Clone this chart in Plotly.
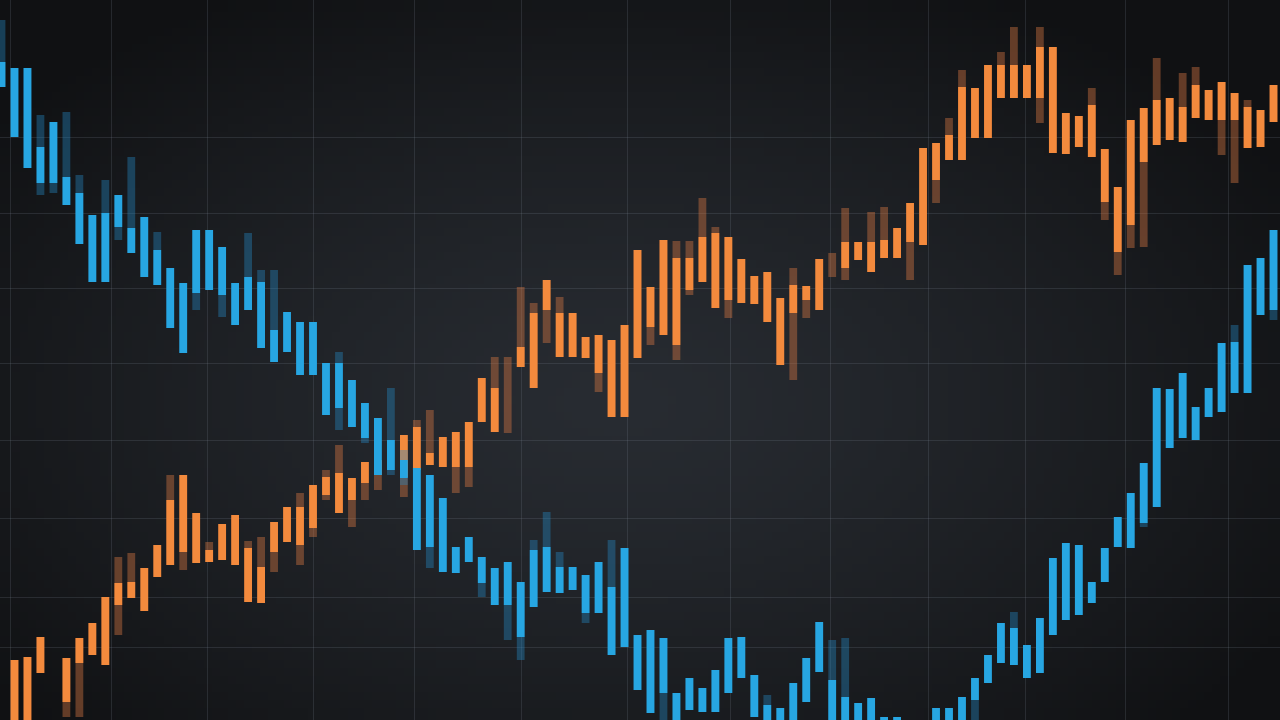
import base64
import struct
import zlib

import plotly.graph_objects as go

# ---------------- data (price units, arbitrary scale) ----------------
candle_index = list(range(99))

blue_high = [98.0, 93.2, 93.2, 88.5, 87.8, 88.8, 82.5, 78.5, 82.0, 80.5,
             84.3, 78.3, 76.8, 73.2, 71.7, 77.0, 77.0, 75.3, 71.7, 76.7,
             73.0, 73.0, 68.8, 67.8, 67.8, 63.7, 64.8, 62.0, 59.7, 58.2,
             61.2, 55.0, 53.2, 52.5, 50.2, 45.3, 46.3, 44.3, 43.2, 43.8,
             41.8, 46.0, 48.8, 44.8, 43.3, 42.5, 43.8, 46.0, 45.2, 36.5,
             37.0, 36.2, 30.7, 32.2, 31.2, 33.0, 36.2, 36.3, 32.5, 30.5,
             29.2, 31.7, 34.2, 37.8, 36.0, 36.2, 29.7, 30.2, 28.3, 28.3,
             26.5, 27.0, 29.2, 29.2, 30.3, 32.2, 34.5, 37.7, 38.8, 35.5,
             38.2, 44.2, 45.7, 45.5, 41.8, 45.2, 48.3, 50.7, 53.7, 61.2,
             61.1, 62.7, 59.3, 61.2, 65.7, 67.5, 73.5, 74.2, 77.0]

blue_top = [93.8, 93.2, 93.2, 85.3, 87.8, 82.3, 80.7, 78.5, 78.7, 80.5,
            77.2, 78.3, 75.0, 73.2, 71.7, 77.0, 77.0, 75.3, 71.7, 72.3,
            71.8, 67.0, 68.8, 67.8, 67.8, 63.7, 63.7, 62.0, 59.7, 58.2,
            56.0, 54.0, 53.2, 52.5, 50.2, 45.3, 46.3, 44.3, 43.2, 43.8,
            41.8, 45.0, 45.3, 43.3, 43.3, 42.5, 43.8, 41.3, 45.2, 36.5,
            37.0, 36.2, 30.7, 32.2, 31.2, 33.0, 36.2, 36.3, 32.5, 29.5,
            29.2, 31.7, 34.2, 37.8, 32.0, 30.3, 29.7, 30.2, 28.3, 28.3,
            26.5, 27.0, 29.2, 29.2, 30.3, 32.2, 34.5, 37.7, 37.2, 35.5,
            38.2, 44.2, 45.7, 45.5, 41.8, 45.2, 48.3, 50.7, 53.7, 61.2,
            61.1, 62.7, 59.3, 61.2, 65.7, 65.8, 73.5, 74.2, 77.0]

blue_bottom = [91.3, 86.3, 83.2, 81.7, 81.7, 79.5, 75.6, 71.8, 71.8, 77.3,
               74.7, 72.3, 71.5, 67.2, 64.7, 70.7, 71.0, 70.5, 67.5, 69.0,
               65.2, 63.8, 64.8, 62.5, 62.5, 58.5, 59.2, 57.3, 56.2, 52.5,
               53.0, 52.2, 45.0, 45.3, 42.8, 42.7, 43.8, 41.7, 39.5, 39.5,
               36.3, 39.3, 40.8, 40.7, 41.0, 38.7, 38.7, 34.5, 35.3, 31.0,
               28.7, 30.7, 27.8, 29.0, 28.8, 28.8, 30.7, 32.2, 28.3, 27.5,
               27.5, 27.5, 29.8, 32.8, 27.5, 27.5, 27.5, 27.5, 26.5, 26.5,
               24.0, 24.5, 27.0, 27.0, 27.0, 30.0, 31.7, 33.7, 33.5, 32.2,
               32.7, 36.5, 38.0, 38.5, 39.7, 41.8, 45.3, 45.2, 47.7, 49.3,
               55.2, 56.2, 56.0, 58.3, 58.8, 60.7, 60.7, 68.5, 69.0]

blue_low = [91.3, 86.3, 83.2, 80.5, 80.7, 79.5, 75.6, 71.8, 71.8, 76.0,
            74.7, 72.3, 71.5, 67.2, 64.7, 69.0, 71.0, 68.3, 67.5, 69.0,
            65.2, 63.8, 64.8, 62.5, 62.5, 58.5, 57.0, 57.3, 55.7, 52.5,
            52.5, 51.5, 45.0, 43.2, 42.8, 42.7, 43.8, 40.3, 39.5, 36.0,
            34.0, 39.3, 40.8, 40.7, 41.0, 37.7, 38.7, 34.5, 35.3, 31.0,
            28.7, 28.0, 27.0, 29.0, 28.8, 28.8, 30.7, 32.2, 28.3, 27.0,
            27.0, 27.0, 29.8, 32.8, 27.0, 27.0, 27.0, 27.0, 26.0, 26.0,
            23.5, 24.0, 26.5, 26.5, 26.5, 28.0, 31.7, 33.7, 33.5, 32.2,
            32.7, 36.5, 38.0, 38.5, 39.7, 41.8, 45.3, 45.2, 47.3, 49.3,
            55.2, 56.2, 56.0, 58.3, 58.8, 60.7, 60.7, 68.5, 68.0]

orange_high = [None, 34.0, 34.3, 36.3, None, 34.2, 36.2, 37.7, 40.3, 44.3,
               44.7, 43.2, 45.5, 52.5, 52.5, 48.7, 45.8, 47.6, 48.5, 45.9,
               46.3, 47.8, 49.3, 50.7, 51.5, 53.0, 55.5, 52.2, 53.8, 54.0,
               None, 56.5, 58.0, 59.0, 56.3, 56.8, 57.8, 62.2, 64.3, 64.3,
               71.3, 69.7, 72.0, 70.3, 68.7, 66.3, 66.5, 66.0, 67.5, 75.0,
               71.3, 76.0, 75.9, 75.9, 80.2, 77.3, 76.3, 74.1, 72.4, 72.8,
               70.2, 73.2, 71.4, 74.1, 74.7, 79.2, 75.8, 78.8, 79.3, 77.2,
               79.7, 85.2, 85.7, 88.2, 93.0, 91.2, 93.5, 94.8, 97.3, 93.5,
               97.3, 95.3, 88.7, 88.4, 91.2, 85.1, 81.3, 88.0, 89.2, 94.2,
               90.2, 92.7, 93.3, 91.0, 91.8, 90.7, 90.0, 89.0, 91.5]

orange_top = [None, 34.0, 34.3, 36.3, None, 34.2, 36.2, 37.7, 40.3, 41.7,
              41.8, 43.2, 45.5, 50.0, 52.5, 48.7, 45.0, 47.6, 48.5, 45.2,
              43.3, 47.8, 49.3, 49.3, 51.5, 52.3, 52.7, 52.2, 53.8, 54.0,
              None, 56.5, 57.3, 54.7, 56.3, 56.8, 57.8, 62.2, 61.2, 60.5,
              65.3, 68.7, 72.0, 68.7, 68.7, 66.3, 66.5, 66.0, 67.5, 75.0,
              71.3, 76.0, 74.2, 74.2, 76.3, 76.7, 76.3, 74.1, 72.4, 72.8,
              70.2, 71.5, 71.4, 74.1, 73.5, 75.8, 75.8, 75.8, 76.0, 77.2,
              79.7, 85.2, 85.7, 86.5, 91.3, 91.2, 93.5, 93.5, 93.5, 93.5,
              95.3, 95.3, 88.7, 88.4, 89.5, 85.1, 81.3, 88.0, 89.2, 90.0,
              90.2, 89.3, 91.5, 91.0, 91.8, 90.7, 89.3, 89.0, 91.5]

orange_bottom = [None, 27.5, 27.5, 32.7, None, 29.8, 33.7, 34.5, 33.5, 39.5,
                 40.2, 38.9, 42.3, 43.5, 44.8, 43.7, 43.8, 44.0, 43.5, 39.8,
                 39.7, 44.8, 45.8, 45.5, 47.2, 50.5, 48.7, 50.0, 51.7, 52.5,
                 None, 52.3, 53.0, 53.5, 53.3, 53.3, 53.3, 57.8, 56.8, 60.5,
                 63.3, 61.2, 69.0, 64.3, 64.3, 64.2, 62.7, 58.3, 58.3, 64.2,
                 67.3, 66.5, 65.5, 71.0, 71.8, 69.2, 70.0, 69.7, 69.6, 67.8,
                 63.5, 68.7, 70.0, 69.0, 73.5, 73.2, 74.0, 72.8, 74.2, 74.2,
                 75.8, 75.5, 82.0, 84.0, 84.0, 86.2, 86.2, 90.2, 90.2, 90.2,
                 90.2, 84.7, 84.6, 85.3, 84.3, 79.8, 74.8, 77.5, 83.8, 85.5,
                 86.0, 85.8, 88.2, 88.0, 88.0, 88.0, 85.2, 85.3, 87.8]

orange_low = [None, 27.0, 27.0, 32.7, None, 28.3, 28.3, 34.5, 33.5, 36.5,
              40.2, 38.9, 42.3, 43.5, 43.0, 43.7, 43.8, 44.0, 43.5, 39.8,
              39.7, 42.8, 45.8, 43.5, 46.3, 50.0, 48.7, 47.3, 50.0, 51.0,
              None, 50.3, 53.0, 53.5, 53.3, 50.7, 51.3, 57.8, 56.8, 56.7,
              63.3, 61.2, 65.7, 64.3, 64.3, 64.2, 60.8, 58.3, 58.3, 64.2,
              65.5, 66.5, 64.0, 70.5, 71.8, 69.2, 68.2, 69.7, 69.6, 67.8,
              63.5, 62.0, 68.2, 69.0, 72.3, 72.0, 74.0, 72.8, 74.2, 74.2,
              72.0, 75.5, 79.7, 84.0, 84.0, 86.2, 86.2, 90.2, 90.2, 90.2,
              87.7, 84.7, 84.6, 85.3, 84.3, 78.0, 72.5, 75.2, 75.3, 85.5,
              86.0, 85.8, 88.2, 88.0, 84.5, 81.7, 85.2, 85.3, 87.8]

# grid positions (in candle / price units)
x_grid = [0.7, 8.45, 15.85, 24.05, 31.85, 40.1, 48.2, 56.15, 63.9, 71.4, 78.9, 86.6, 94.5]
y_grid = [86.3, 78.7, 71.2, 63.7, 56.0, 48.2, 40.3, 35.3]

# ---------------- styling ----------------
BLUE = "#27a6e2"
BLUE_DIM = "rgba(38,140,200,0.38)"
ORANGE = "#f38a3d"
ORANGE_DIM = "rgba(214,118,66,0.42)"
BAR_W = 0.6


def spans(lo, hi):
    return [None if (a is None or b is None) else round(b - a, 3) for a, b in zip(lo, hi)]


def vignette_uri(w=160, h=90):
    center = (40, 44, 50)
    edge = (16, 17, 19)
    raw = bytearray()
    for j in range(h):
        raw.append(0)
        for i in range(w):
            dx = ((i + 0.5) / w - 0.48) / 0.62
            dy = ((j + 0.5) / h - 0.56) / 0.66
            t = min(1.0, (dx * dx + dy * dy) ** 0.5) ** 1.3
            raw += bytes(int(c + (e - c) * t) for c, e in zip(center, edge))

    def chunk(tag, data):
        return (struct.pack(">I", len(data)) + tag + data
                + struct.pack(">I", zlib.crc32(tag + data) & 0xFFFFFFFF))

    png = (b"\x89PNG\r\n\x1a\n"
           + chunk(b"IHDR", struct.pack(">IIBBBBB", w, h, 8, 2, 0, 0, 0))
           + chunk(b"IDAT", zlib.compress(bytes(raw), 9))
           + chunk(b"IEND", b""))
    return "data:image/png;base64," + base64.b64encode(png).decode()


fig = go.Figure()

for low, high, top, bottom, dim, bright in [
    (orange_low, orange_high, orange_top, orange_bottom, ORANGE_DIM, ORANGE),
    (blue_low, blue_high, blue_top, blue_bottom, BLUE_DIM, BLUE),
]:
    fig.add_trace(go.Bar(x=candle_index, y=spans(low, high), base=low, width=BAR_W,
                         marker=dict(color=dim, line=dict(width=0)),
                         hoverinfo="skip", showlegend=False))
    fig.add_trace(go.Bar(x=candle_index, y=spans(bottom, top), base=bottom, width=BAR_W,
                         marker=dict(color=bright, line=dict(width=0)),
                         hoverinfo="skip", showlegend=False))

fig.update_layout(
    width=1280, height=720,
    margin=dict(l=0, r=0, t=0, b=0),
    barmode="overlay",
    paper_bgcolor="#131416",
    plot_bgcolor="rgba(0,0,0,0)",
    showlegend=False,
    images=[dict(source=vignette_uri(), xref="paper", yref="paper", x=0, y=1,
                 sizex=1, sizey=1, xanchor="left", yanchor="top",
                 sizing="stretch", layer="below")],
    xaxis=dict(range=[-0.116, 98.5], tickvals=x_grid, showticklabels=False,
               showgrid=True, gridcolor="rgba(125,135,148,0.20)", gridwidth=1,
               zeroline=False, showline=False, ticks="", fixedrange=True),
    yaxis=dict(range=[28, 100], tickvals=y_grid, showticklabels=False,
               showgrid=True, gridcolor="rgba(125,135,148,0.20)", gridwidth=1,
               zeroline=False, showline=False, ticks="", fixedrange=True),
)

fig.write_html(
    "out.html",
    config={"displayModeBar": False},
    post_script="document.body.style.margin='0';document.body.style.overflow='hidden';"
                "document.documentElement.style.background='#131416';",
)
